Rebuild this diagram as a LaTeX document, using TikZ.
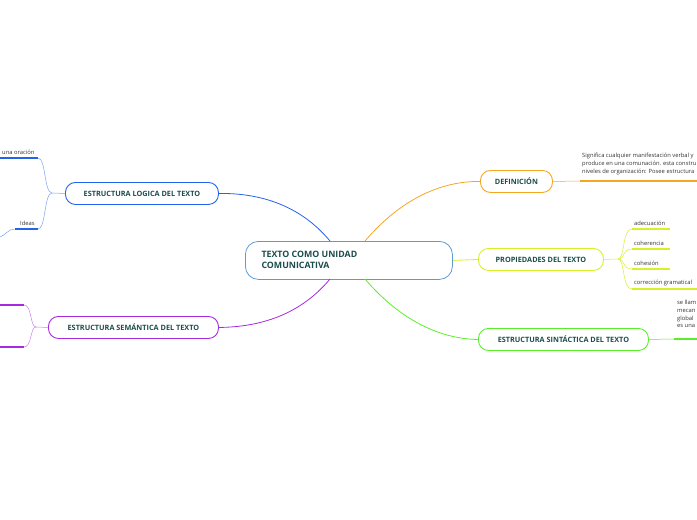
\documentclass[tikz,border=0pt]{standalone}
\usepackage{fontspec}
\setmainfont{Open Sans}
\definecolor{tt}{HTML}{1B4D4A}
\definecolor{cb}{HTML}{5A9BD5}
\definecolor{co}{HTML}{F5A623}
\definecolor{cy}{HTML}{D8F02A}
\definecolor{cg}{HTML}{5AEE2A}
\definecolor{cbl}{HTML}{2463EB}
\definecolor{cp}{HTML}{A52BE0}
\begin{document}
\begin{tikzpicture}[x=1pt,y=-1pt,
  topic/.style={draw,line width=0.9pt,rounded corners=10pt,font=\fontsize{7.3}{8}\selectfont\bfseries,text=tt,inner sep=0pt,anchor=north west},
  leaf/.style={font=\fontsize{5.8}{7.7}\selectfont,text=black!80,inner sep=0pt,anchor=south west,align=left}]
\useasboundingbox (0,0) rectangle (697,520);
% center
\node[draw=cb,line width=0.8pt,rounded corners=13pt,minimum width=207pt,minimum height=38pt,anchor=north west,inner sep=0pt] (c) at (245,241) {};
\node[anchor=west,align=left,font=\fontsize{8.8}{11}\selectfont\bfseries,text=tt] (ct) at (258,260) {TEXTO COMO UNIDAD\\COMUNICATIVA};
% topics
\node[topic,draw=co,minimum width=72pt,minimum height=22pt] (d) at (480,170) {DEFINICIÓN};
\node[topic,draw=cy,minimum width=125pt,minimum height=22pt] (p) at (478,248) {PROPIEDADES DEL TEXTO};
\node[topic,draw=cg,minimum width=170pt,minimum height=22pt] (s) at (478,328) {ESTRUCTURA SINTÁCTICA DEL TEXTO};
\node[topic,draw=cbl,minimum width=153pt,minimum height=22pt] (l) at (65,182) {ESTRUCTURA LOGICA DEL TEXTO};
\node[topic,draw=cp,minimum width=170pt,minimum height=22pt] (m) at (48,316) {ESTRUCTURA SEMÁNTICA DEL TEXTO};
% main connectors
\draw[co,line width=0.8pt] (365,241) .. controls (400,200) and (440,181) .. (d.west);
\draw[cy,line width=0.8pt] (c.east) .. controls (465,260) .. (p.west);
\draw[cg,line width=0.8pt] (365,279) .. controls (400,320) and (440,339) .. (s.west);
\draw[cbl,line width=0.8pt] (330,241) .. controls (300,205) and (260,193) .. (l.east);
\draw[cp,line width=0.8pt] (330,279) .. controls (300,315) and (260,327) .. (m.east);
% definicion
\coordinate (d1) at (580,181);
\draw[co,line width=0.5pt] (d.east) -- (d1);
\draw[co,line width=1.2pt] (d1) -- (697,181);
\node[leaf,anchor=north west] (dt) at (582,153) {Significa cualquier manifestación verbal y\\produce en una comunación. esta constru\\niveles de organización: Posee estructura};
% propiedades
\coordinate (pj) at (618,259);
\draw[cy,line width=0.5pt] (p.east) -- (pj);
\foreach \y/\t/\w in {229/adecuación/670,249/coherencia/670,269/cohesión/670,289/corrección gramatical/697}{
  \draw[cy,line width=0.5pt] (pj) .. controls (625,259) and (622,\y) .. (632,\y);
  \draw[cy,line width=1.2pt] (632,\y) -- (\w,\y);
  \node[leaf] at (634,\y-3) {\t};
}
% sintactica
\coordinate (s1) at (674,339);
\draw[cg,line width=0.5pt] (s.east) -- (s1);
\draw[cg,line width=1.2pt] (s1) -- (697,339);
\node[leaf,anchor=north west] (st) at (677,300) {se llam\\mecan\\global\\es una};
% logica
\coordinate (lj) at (52,193);
\draw[cbl!60,line width=0.5pt] (l.west) -- (lj);
\draw[cbl!60,line width=0.5pt] (lj) .. controls (44,193) and (46,158) .. (38,158);
\draw[cbl!60,line width=0.5pt] (lj) .. controls (44,193) and (46,229) .. (38,229);
\draw[cbl,line width=1.2pt] (38,158) -- (0,158);
\draw[cbl,line width=1.2pt] (38,229) -- (15,229);
\draw[cbl!60,line width=0.5pt] (15,229) .. controls (8,229) and (6,235) .. (0,237);
\node[leaf] at (2,155) {una oración};
\node[leaf] at (20,226) {Ideas};
% semantica
\coordinate (mj) at (36,327);
\draw[cp!60,line width=0.5pt] (m.west) -- (mj);
\draw[cp!60,line width=0.5pt] (mj) .. controls (30,327) and (32,305) .. (24,305);
\draw[cp!60,line width=0.5pt] (mj) .. controls (30,327) and (32,347) .. (24,347);
\draw[cp,line width=1.2pt] (24,305) -- (0,305);
\draw[cp,line width=1.2pt] (24,347) -- (0,347);
\end{tikzpicture}
\end{document}
